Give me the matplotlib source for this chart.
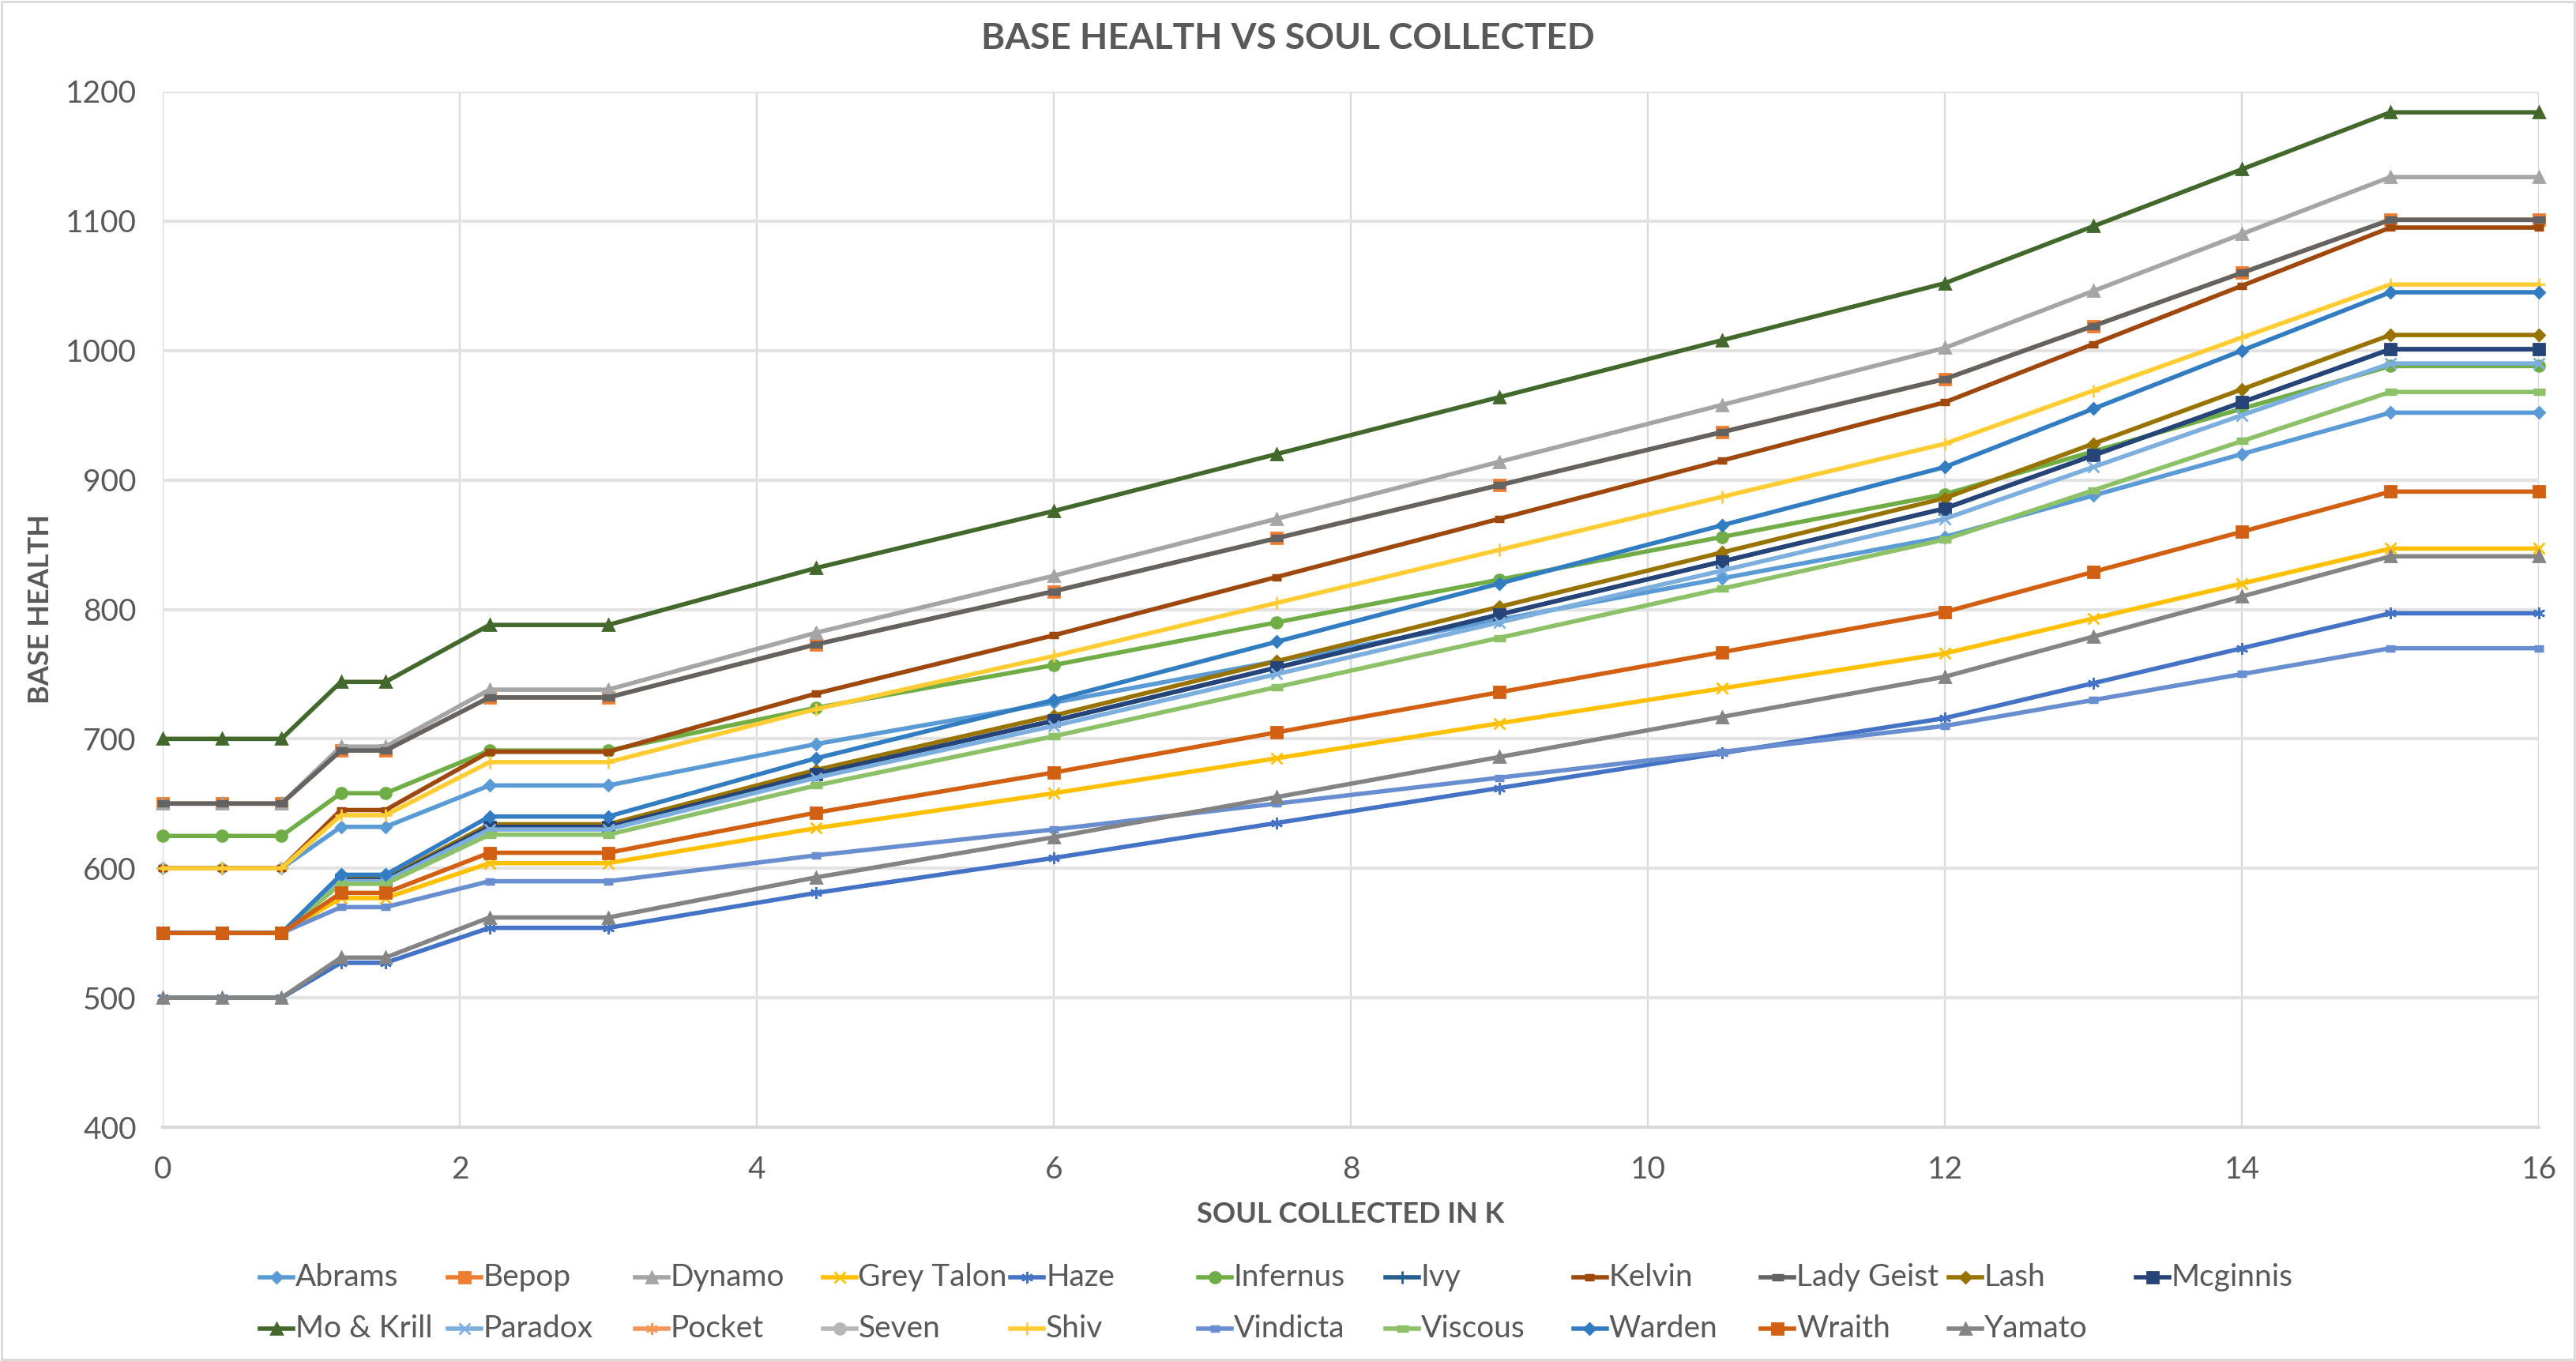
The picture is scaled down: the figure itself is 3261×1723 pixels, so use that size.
import matplotlib
matplotlib.use("Agg")
import matplotlib.pyplot as plt
from matplotlib.lines import Line2D
from matplotlib.patches import Rectangle
from matplotlib import font_manager

# --- data (souls in thousands -> base health)
soul_k = [0, 0.4, 0.8, 1.2, 1.5, 2.2, 3, 4.4, 6, 7.5, 9, 10.5, 12, 13, 14, 15, 16]

abrams     = [600, 600, 600, 632, 632, 664, 664, 696, 728, 760, 792, 824, 856, 888, 920, 952, 952]
bepop      = [650, 650, 650, 691, 691, 732, 732, 773, 814, 855, 896, 937, 978, 1019, 1060, 1101, 1101]
dynamo     = [650, 650, 650, 694, 694, 738, 738, 782, 826, 870, 914, 958, 1002, 1046, 1090, 1134, 1134]
grey_talon = [550, 550, 550, 577, 577, 604, 604, 631, 658, 685, 712, 739, 766, 793, 820, 847, 847]
haze       = [500, 500, 500, 527, 527, 554, 554, 581, 608, 635, 662, 689, 716, 743, 770, 797, 797]
infernus   = [625, 625, 625, 658, 658, 691, 691, 724, 757, 790, 823, 856, 889, 922, 955, 988, 988]
ivy        = [550, 550, 550, 591, 591, 632, 632, 673, 714, 755, 796, 837, 878, 919, 960, 1001, 1001]
kelvin     = [600, 600, 600, 645, 645, 690, 690, 735, 780, 825, 870, 915, 960, 1005, 1050, 1095, 1095]
lady_geist = [650, 650, 650, 691, 691, 732, 732, 773, 814, 855, 896, 937, 978, 1019, 1060, 1101, 1101]
lash       = [550, 550, 550, 592, 592, 634, 634, 676, 718, 760, 802, 844, 886, 928, 970, 1012, 1012]
mcginnis   = [550, 550, 550, 591, 591, 632, 632, 673, 714, 755, 796, 837, 878, 919, 960, 1001, 1001]
mo_krill   = [700, 700, 700, 744, 744, 788, 788, 832, 876, 920, 964, 1008, 1052, 1096, 1140, 1184, 1184]
paradox    = [550, 550, 550, 590, 590, 630, 630, 670, 710, 750, 790, 830, 870, 910, 950, 990, 990]
pocket     = []   # legend only, no points drawn
seven      = []   # legend only, no points drawn
shiv       = [600, 600, 600, 641, 641, 682, 682, 723, 764, 805, 846, 887, 928, 969, 1010, 1051, 1051]
vindicta   = [550, 550, 550, 570, 570, 590, 590, 610, 630, 650, 670, 690, 710, 730, 750, 770, 770]
viscous    = [550, 550, 550, 588, 588, 626, 626, 664, 702, 740, 778, 816, 854, 892, 930, 968, 968]
warden     = [550, 550, 550, 595, 595, 640, 640, 685, 730, 775, 820, 865, 910, 955, 1000, 1045, 1045]
wraith     = [550, 550, 550, 581, 581, 612, 612, 643, 674, 705, 736, 767, 798, 829, 860, 891, 891]
yamato     = [500, 500, 500, 531, 531, 562, 562, 593, 624, 655, 686, 717, 748, 779, 810, 841, 841]

heroes = ['Abrams', 'Bepop', 'Dynamo', 'Grey Talon', 'Haze', 'Infernus', 'Ivy',
          'Kelvin', 'Lady Geist', 'Lash', 'Mcginnis', 'Mo & Krill', 'Paradox',
          'Pocket', 'Seven', 'Shiv', 'Vindicta', 'Viscous', 'Warden', 'Wraith', 'Yamato']
series = [abrams, bepop, dynamo, grey_talon, haze, infernus, ivy, kelvin, lady_geist,
          lash, mcginnis, mo_krill, paradox, pocket, seven, shiv, vindicta, viscous,
          warden, wraith, yamato]

# excel default palette / marker cycle
colors = ['#5B9BD5', '#ED7D31', '#A5A5A5', '#FFC000', '#4472C4', '#70AD47',
          '#255E91', '#9E480E', '#636363', '#997300', '#264478', '#43682B',
          '#7CAFDD', '#F1975A', '#B7B7B7', '#FFCD33', '#698ED0', '#8CC168',
          '#327DC2', '#D26012', '#848484']
mk_cycle = [('D', 3.5, 1.0), ('s', 5.0, 1.0), ('^', 5.0, 1.0), ('x', 4.8, 1.0),
            ((6, 2, 0), 5.4, 1.0), ('o', 5.0, 1.0), ('+', 5.6, 1.0),
            ('_', 4.6, 3.4), ('_', 5.4, 3.4)]
styles = [mk_cycle[i % 9] for i in range(len(heroes))]

names = {f.name for f in font_manager.fontManager.ttflist}
plt.rcParams['font.family'] = ['Lato' if 'Lato' in names else 'DejaVu Sans', 'DejaVu Sans']

txt = '#595959'
W, H = 3261, 1723
fig = plt.figure(figsize=(W / 200, H / 200), dpi=200)
# plot area in pixels: x 206..3214, y 116..1427
ax = fig.add_axes([206 / W, 1 - 1427 / H, (3214 - 206) / W, (1427 - 116) / H])

lw = 2.0
for name, ys, c, (m, ms, mew) in zip(heroes, series, colors, styles):
    if len(ys) == 0:
        continue
    ax.plot(soul_k[:len(ys)], ys, color=c, lw=lw, marker=m, ms=ms,
            mfc=c, mec=c, mew=mew, solid_joinstyle='round', clip_on=False)

ax.set_xlim(0, 16)
ax.set_ylim(400, 1200)
ax.set_xticks(range(0, 17, 2))
ax.set_yticks(range(400, 1201, 100))
ax.tick_params(length=0, labelsize=14, labelcolor=txt)
ax.tick_params(axis='y', pad=12)
ax.tick_params(axis='x', pad=13)
ax.grid(axis='y', color='#E3E3E3', lw=1.5, zorder=0)
ax.grid(axis='x', color='#D9D9D9', lw=0.8, zorder=0)
ax.set_axisbelow(True)
for side in ('top', 'right', 'left'):
    ax.spines[side].set_visible(False)
ax.spines['bottom'].set_color('#D9D9D9')
ax.spines['bottom'].set_linewidth(1.5)

fig.text(0.5, 1 - 49 / H, 'BASE HEALTH VS SOUL COLLECTED', ha='center', va='center',
         fontsize=16.5, fontweight='bold', color=txt)
fig.text(1710 / W, 1 - 1537 / H, 'SOUL COLLECTED IN K', ha='center', va='center',
         fontsize=13, fontweight='bold', color=txt)
fig.text(52 / W, 1 - 771 / H, 'BASE HEALTH', ha='center', va='center', rotation=90,
         fontsize=13, fontweight='bold', color=txt)

# legend: excel style, fixed column pitch, two rows
col0, pitch, half = 350, 237.5, 21
row_y = [1617, 1682]
for i, (name, c, (m, ms, mew)) in enumerate(zip(heroes, colors, styles)):
    r, k = divmod(i, 11)
    cx, cy = col0 + k * pitch, row_y[r]
    fig.add_artist(Line2D([(cx - half) / W, cx / W, (cx + half) / W],
                          [1 - cy / H] * 3, transform=fig.transFigure, color=c,
                          lw=lw, marker=m, ms=ms, mfc=c, mec=c, mew=mew,
                          markevery=[1]))
    fig.text((cx + half + 3) / W, 1 - cy / H, name, ha='left', va='center',
             fontsize=14, color=txt)

fig.add_artist(Rectangle((0.0005, 0.001), 0.999, 0.998, transform=fig.transFigure,
                         fill=False, ec='#D9D9D9', lw=1.0))

fig.savefig('out.png', dpi=200, facecolor='white')
